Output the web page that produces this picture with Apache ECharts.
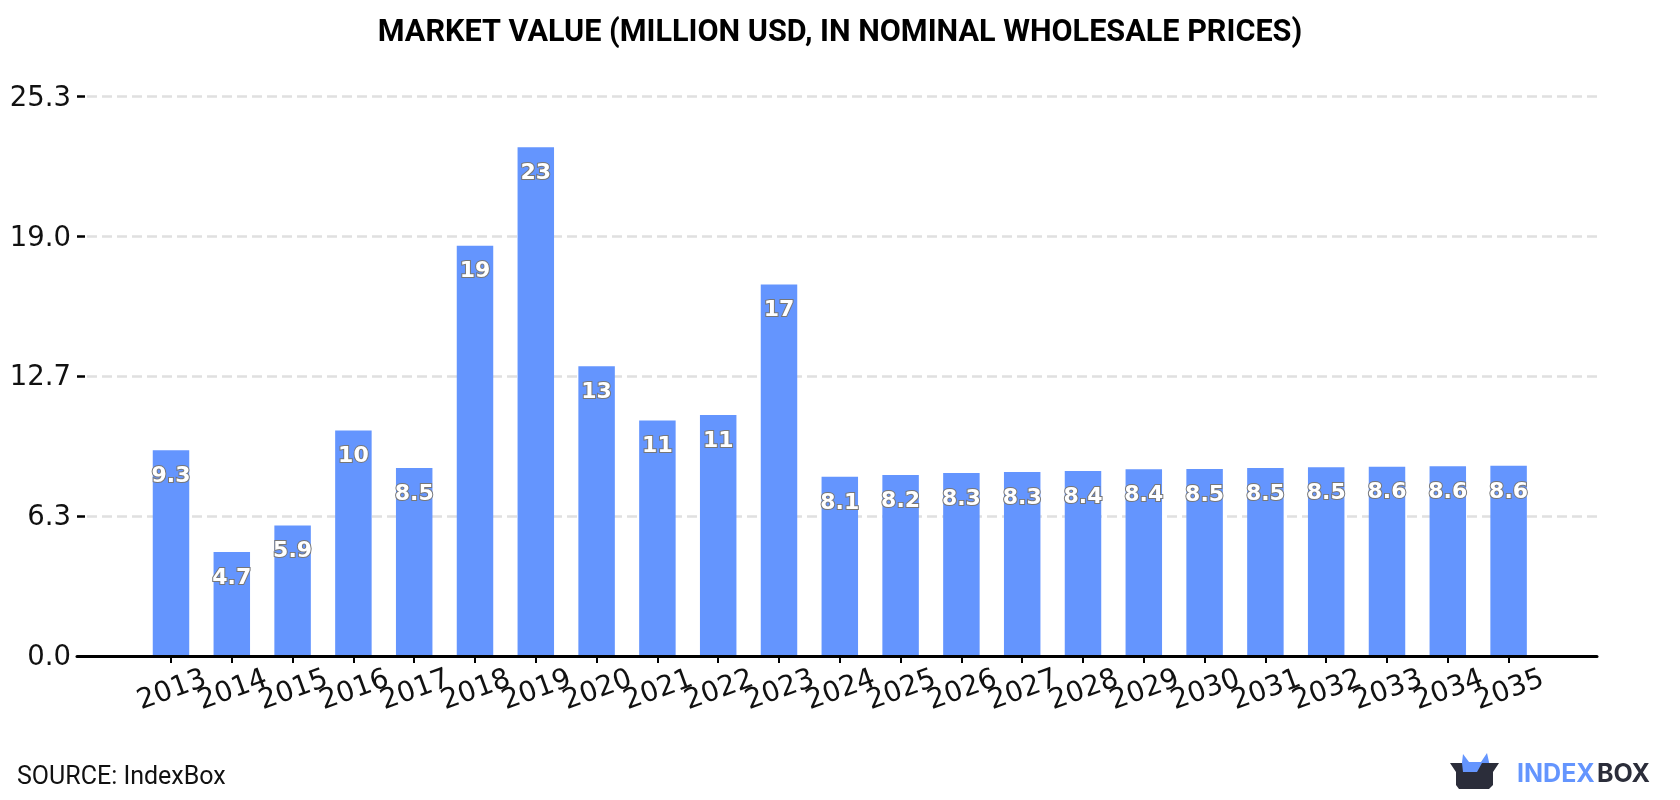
<!DOCTYPE html>
<html>
<head>
<meta charset="utf-8">
<style>html,body{margin:0;padding:0;background:#fff}#chart{width:1680px;height:800px}</style>
<script src="https://cdn.jsdelivr.net/npm/echarts@6/dist/echarts.min.js"></script>
</head>
<body>
<div id="chart"></div>
<script>
// Market value by year, million USD
const years = ['2013','2014','2015','2016','2017','2018','2019','2020','2021','2022','2023','2024',
  '2025','2026','2027','2028','2029','2030','2031','2032','2033','2034','2035'];
const marketValue = [9.3,4.7,5.9,10.2,8.5,18.55,23.0,13.1,10.65,10.9,16.8,8.1,
  8.18,8.27,8.32,8.37,8.44,8.46,8.5,8.54,8.56,8.58,8.6];
const yTickLabels = ['0.0','6.3','12.7','19.0','25.3'];
const yMax = 25.3;
const yStep = 6.325;

const chart = echarts.init(document.getElementById('chart'));
const blue = '#6495fe';
const dark = '#2b2d3a';

chart.setOption({
  animation: false,
  backgroundColor: '#fff',
  title: {
    text: 'MARKET VALUE (MILLION USD, IN NOMINAL WHOLESALE PRICES)',
    left: 'center', top: 13,
    textStyle: {fontFamily: 'Roboto', fontWeight: 'bold', fontSize: 30.6, color: '#000'}
  },
  grid: [
    // wide frame: horizontal guides and the baseline
    {left: 77, right: 83, top: 96.5, bottom: 144},
    // inner plot holding the bars
    {left: 140.6, width: 1398.4, top: 96.5, bottom: 144}
  ],
  xAxis: [
    {gridIndex: 0, type: 'value', min: 0, max: 1, z: 4,
      axisLine: {show: true, onZero: false, lineStyle: {color: '#000', width: 3}},
      axisTick: {show: false}, axisLabel: {show: false}, splitLine: {show: false}},
    {gridIndex: 1, type: 'category', data: years, z: 4,
      axisLine: {show: false},
      axisTick: {show: true, alignWithLabel: true, length: 7, lineStyle: {color: '#000', width: 2}},
      axisLabel: {interval: 0, rotate: 20, align: 'center', verticalAlign: 'top', margin: 20,
        padding: [0, 8, 0, 0],
        fontFamily: 'DejaVu Sans', fontSize: 28, color: '#111'},
      splitLine: {show: false}}
  ],
  yAxis: [
    {gridIndex: 0, type: 'value', min: 0, max: yMax, interval: yStep,
      axisLine: {show: false},
      axisTick: {show: true, inside: true, length: 8, lineStyle: {color: '#000', width: 2.5}},
      axisLabel: {margin: 6, fontFamily: 'DejaVu Sans', fontSize: 27.5, color: '#111',
        verticalAlign: 'top', lineHeight: 4,
        formatter: (v, i) => yTickLabels[i]},
      splitLine: {show: true, lineStyle: {color: '#e0e0e0', width: 2.5, type: [10, 5], dashOffset: 5}}},
    {gridIndex: 1, type: 'value', min: 0, max: yMax, interval: yStep, show: false,
      splitLine: {show: false}}
  ],
  series: [{
    type: 'bar',
    xAxisIndex: 1, yAxisIndex: 1,
    data: marketValue,
    barWidth: '60%',
    itemStyle: {color: blue},
    label: {
      show: true, position: 'insideTop', distance: 15,
      fontFamily: 'DejaVu Sans', fontWeight: 'bold', fontSize: 22,
      color: '#fff', textBorderColor: '#777', textBorderWidth: 2,
      formatter: p => String(+p.value.toPrecision(2))
    }
  }],
  graphic: [
    {type: 'text', left: 17, top: 765,
      style: {text: 'SOURCE: IndexBox', fontFamily: 'Roboto', fontSize: 25, fill: '#111'}},
    // brand mark: box with two blue peaks
    {type: 'polygon', shape: {points: [[1461,771],[1463,754],[1469,762],[1481,762],[1487,753],[1491,771],[1481,771],[1476,778],[1463,778]]},
      style: {fill: blue}},
    {type: 'polygon', shape: {points: [[1450,763],[1462,763],[1463,772],[1477,772],[1482,763],[1499,763],[1493,772],[1493,785],[1489,789],[1459,789],[1456,785],[1456,772]]},
      style: {fill: dark}},
    {type: 'text', left: 1517, top: 762,
      style: {text: 'INDEX', fontFamily: 'Inter', fontWeight: 'bold', fontSize: 25, fill: blue}},
    {type: 'text', left: 1597, top: 762,
      style: {text: 'BOX', fontFamily: 'Inter', fontWeight: 'bold', fontSize: 25, fill: dark}}
  ]
});
</script>
</body>
</html>
